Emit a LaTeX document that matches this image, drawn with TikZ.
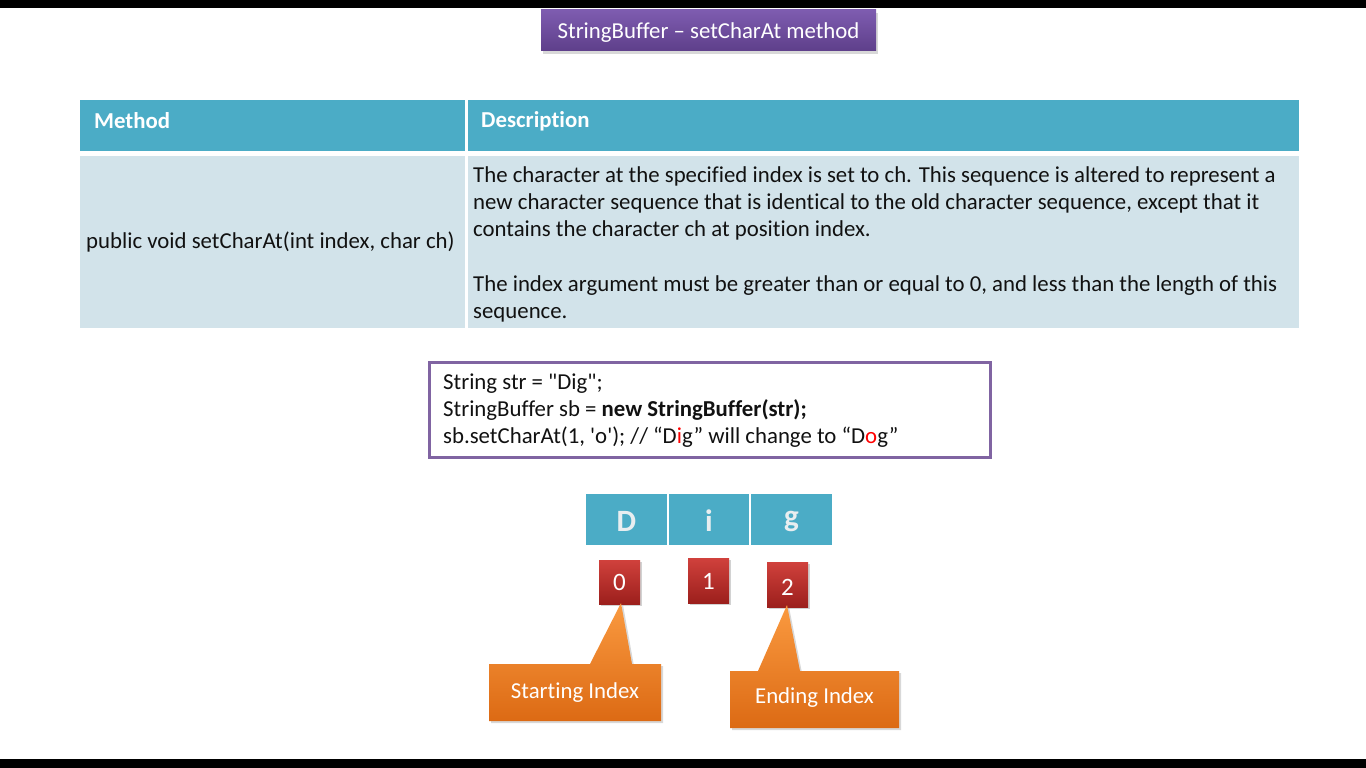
\documentclass[tikz,border=0pt]{standalone}
\usepackage{fontspec}
\setmainfont{Carlito}[Ligatures={TeX,NoCommon}]
\newfontfamily\codefont{Carlito}[Ligatures=NoCommon]
\usetikzlibrary{shadows}
\definecolor{hdr}{HTML}{4BACC6}
\definecolor{body}{HTML}{D2E3EA}
\definecolor{purp}{HTML}{8064A2}
\definecolor{purpT}{HTML}{7E5CB0}
\definecolor{purpB}{HTML}{5E3F8A}
\definecolor{redT}{HTML}{D0413C}
\definecolor{redB}{HTML}{9C1F1C}
\definecolor{orT}{HTML}{FA9A40}
\definecolor{orB}{HTML}{DC6A14}
\definecolor{txt}{HTML}{111111}
\definecolor{cellTxt}{HTML}{E8EEF0}
\tikzset{
  x=1pt,y=-1pt,
  bigtxt/.style={font=\fontsize{22.8}{26}\selectfont, text=txt, inner sep=0pt},
  codetxt/.style={font=\codefont\fontsize{22.8}{26}\selectfont, text=txt, inner sep=0pt},
  celltxt/.style={font=\fontsize{31}{34}\selectfont\bfseries, text=cellTxt},
  redbox/.style={top color=redT, bottom color=redB, drop shadow={opacity=0.35,shadow xshift=2pt,shadow yshift=-2pt}},
  callout/.style={top color=orT, bottom color=orB, drop shadow={opacity=0.3,shadow xshift=2pt,shadow yshift=-2pt}},
  whitetxt/.style={font=\fontsize{22.8}{26}\selectfont, text=white, inner sep=0pt},
}
\begin{document}
\begin{tikzpicture}
\useasboundingbox (0,0) rectangle (1366,768);
\fill[white] (0,0) rectangle (1366,768);
% black bars
\fill[black] (0,0) rectangle (1366,8);
\fill[black] (0,759) rectangle (1366,768);
% title
\shade[top color=purpT,bottom color=purpB, drop shadow={opacity=0.3,shadow xshift=2pt,shadow yshift=-3pt}] (541,10) rectangle (876,51);
\node[whitetxt] (title) at (708.5,32.5) {StringBuffer – setCharAt method};
% table
\fill[hdr] (80,100) rectangle (1299,151);
\fill[body] (80,156) rectangle (1299,328);
\fill[white] (465,100) rectangle (468,328);
\node[whitetxt, font=\fontsize{22.8}{26}\selectfont\bfseries, anchor=west] (hm) at (94,121) {Method};
\node[whitetxt, font=\fontsize{22.8}{26}\selectfont\bfseries, anchor=west] (hd) at (481,121) {Description};
\node[bigtxt, anchor=west] (sig) at (86,242) {public void setCharAt(int index, char ch)};
\node[bigtxt, anchor=base west] (d1) at (473,182) {The character at the specified index is set to ch. This sequence is altered to represent a};
\node[bigtxt, anchor=base west] (d2) at (473,209) {new character sequence that is identical to the old character sequence, except that it};
\node[bigtxt, anchor=base west] (d3) at (473,236) {contains the character ch at position index.};
\node[bigtxt, anchor=base west] (d4) at (473,291) {The index argument must be greater than or equal to 0, and less than the length of this};
\node[bigtxt, anchor=base west] (d5) at (473,318) {sequence.};
% code box
\draw[purp, line width=3pt, fill=white] (429,362) rectangle (990,457);
\node[codetxt, anchor=base west] (c1) at (443,389) {String str = "Dig";};
\node[codetxt, anchor=base west] (c2) at (443,416) {StringBuffer sb = \textbf{new StringBuffer(str);}};
\node[codetxt, anchor=base west] (c3) at (443,443) {sb.setCharAt(1, 'o'); // “D\textcolor{red}{i}g” will change to “D\textcolor{red}{o}g”};
% cells
\fill[hdr] (586,494) rectangle (667,545);
\fill[hdr] (669,494) rectangle (749,545);
\fill[hdr] (751,494) rectangle (832,545);
\node[celltxt] (cD) at (626.5,521) {D};
\node[celltxt] (ci) at (709,521) {i};
\node[celltxt] (cg) at (791.5,521) {g};
% red index boxes
\shade[redbox] (599,560) rectangle (640,604);
\shade[redbox] (688,558) rectangle (729,603);
\shade[redbox] (767,562) rectangle (808,607);
\node[whitetxt, font=\fontsize{25}{27}\selectfont] (i0) at (619.5,582) {0};
\node[whitetxt, font=\fontsize{25}{27}\selectfont] (i1) at (708.5,581) {1};
\node[whitetxt, font=\fontsize{25}{27}\selectfont] (i2) at (787.5,587) {2};
% callouts
\shade[callout] (489,664) -- (590,664) -- (621,603) -- (632,664) -- (661,664) -- (661,721) -- (489,721) -- cycle;
\node[whitetxt] (start) at (575,693) {Starting Index};
\shade[callout] (730,671) -- (758,671) -- (787,605) -- (800,671) -- (899,671) -- (899,728) -- (730,728) -- cycle;
\node[whitetxt] (end) at (814.5,698) {Ending Index};
\end{tikzpicture}
\end{document}
